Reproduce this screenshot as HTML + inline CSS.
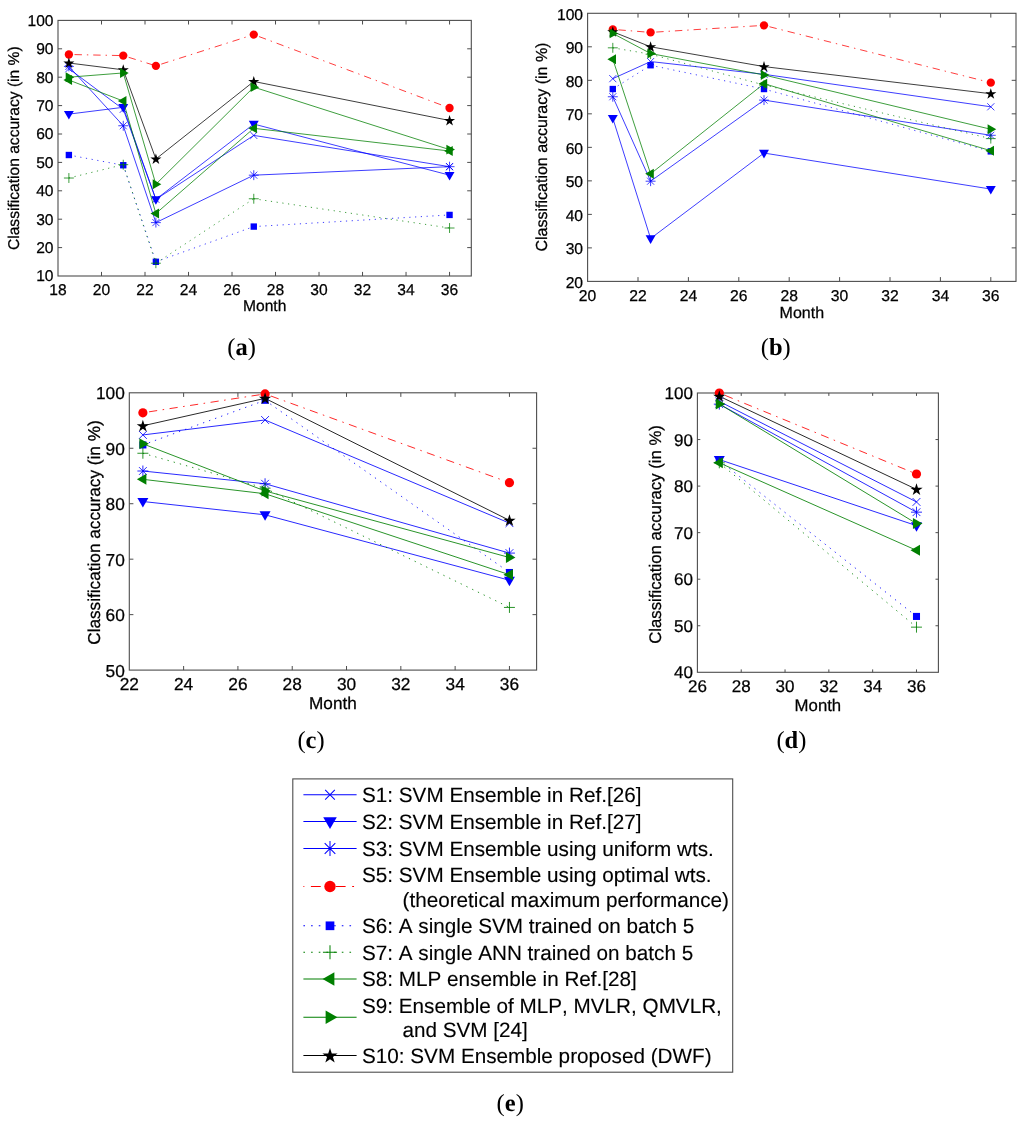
<!DOCTYPE html>
<html lang="en"><head><meta charset="utf-8"><title>Classification accuracy figure</title>
<style>
html,body{margin:0;padding:0;background:#fff;}
body{width:1024px;height:1123px;overflow:hidden;}
svg{display:block;font-family:"Liberation Sans",Arial,Helvetica,sans-serif;fill:#000;font-kerning:none;text-rendering:geometricPrecision;}
text{stroke:#000;stroke-width:0.25px;}
text.lg{stroke-width:0.12px;}
text.cp{stroke:none;}
</style></head><body>
<svg width="1024" height="1123" viewBox="0 0 1024 1123">
<rect width="1024" height="1123" fill="#fff"/>
<rect x="58" y="20.4" width="413.3" height="255.6" fill="none" stroke="#4d4d4d" stroke-width="1.1"/>
<text x="58" y="294.5" font-size="15.6" text-anchor="middle">18</text>
<text x="101.51" y="294.5" font-size="15.6" text-anchor="middle">20</text>
<text x="145.01" y="294.5" font-size="15.6" text-anchor="middle">22</text>
<text x="188.52" y="294.5" font-size="15.6" text-anchor="middle">24</text>
<text x="232.02" y="294.5" font-size="15.6" text-anchor="middle">26</text>
<text x="275.53" y="294.5" font-size="15.6" text-anchor="middle">28</text>
<text x="319.03" y="294.5" font-size="15.6" text-anchor="middle">30</text>
<text x="362.54" y="294.5" font-size="15.6" text-anchor="middle">32</text>
<text x="406.04" y="294.5" font-size="15.6" text-anchor="middle">34</text>
<text x="449.55" y="294.5" font-size="15.6" text-anchor="middle">36</text>
<text x="53.5" y="281.42" font-size="15.6" text-anchor="end">10</text>
<text x="53.5" y="253.02" font-size="15.6" text-anchor="end">20</text>
<text x="53.5" y="224.62" font-size="15.6" text-anchor="end">30</text>
<text x="53.5" y="196.22" font-size="15.6" text-anchor="end">40</text>
<text x="53.5" y="167.82" font-size="15.6" text-anchor="end">50</text>
<text x="53.5" y="139.42" font-size="15.6" text-anchor="end">60</text>
<text x="53.5" y="111.02" font-size="15.6" text-anchor="end">70</text>
<text x="53.5" y="82.62" font-size="15.6" text-anchor="end">80</text>
<text x="53.5" y="54.22" font-size="15.6" text-anchor="end">90</text>
<text x="53.5" y="25.82" font-size="15.6" text-anchor="end">100</text>
<path d="M101.51 276v-4.1M101.51 20.4v4.1M145.01 276v-4.1M145.01 20.4v4.1M188.52 276v-4.1M188.52 20.4v4.1M232.02 276v-4.1M232.02 20.4v4.1M275.53 276v-4.1M275.53 20.4v4.1M319.03 276v-4.1M319.03 20.4v4.1M362.54 276v-4.1M362.54 20.4v4.1M406.04 276v-4.1M406.04 20.4v4.1M449.55 276v-4.1M449.55 20.4v4.1M58 247.6h4.1M471.3 247.6h-4.1M58 219.2h4.1M471.3 219.2h-4.1M58 190.8h4.1M471.3 190.8h-4.1M58 162.4h4.1M471.3 162.4h-4.1M58 134h4.1M471.3 134h-4.1M58 105.6h4.1M471.3 105.6h-4.1M58 77.2h4.1M471.3 77.2h-4.1M58 48.8h4.1M471.3 48.8h-4.1" stroke="#4d4d4d" stroke-width="1" fill="none"/>
<text x="264.65" y="311.3" font-size="15.6" text-anchor="middle">Month</text>
<text transform="translate(19.2 148.2) rotate(-90)" font-size="15.6" text-anchor="middle">Classification accuracy (in %)</text>
<polyline points="68.88,68.68 123.26,109.29 155.89,199.32 253.77,135.42 449.55,166.66" fill="none" stroke="#0000ff" stroke-width="0.76"/>
<path d="M65.34 65.14L72.42 72.22M65.34 72.22L72.42 65.14" stroke="#0000ff" stroke-width="0.76" fill="none"/>
<path d="M119.72 105.75L126.8 112.83M119.72 112.83L126.8 105.75" stroke="#0000ff" stroke-width="0.76" fill="none"/>
<path d="M152.35 195.78L159.43 202.86M152.35 202.86L159.43 195.78" stroke="#0000ff" stroke-width="0.76" fill="none"/>
<path d="M250.23 131.88L257.31 138.96M250.23 138.96L257.31 131.88" stroke="#0000ff" stroke-width="0.76" fill="none"/>
<path d="M446.01 163.12L453.09 170.2M446.01 170.2L453.09 163.12" stroke="#0000ff" stroke-width="0.76" fill="none"/>
<polyline points="68.88,114.12 123.26,107.3 155.89,199.32 253.77,124.06 449.55,175.18" fill="none" stroke="#0000ff" stroke-width="0.76"/>
<path d="M63.92 110.93L73.83 110.93L68.88 119.54Z" fill="#0000ff"/>
<path d="M118.3 104.12L128.21 104.12L123.26 112.72Z" fill="#0000ff"/>
<path d="M150.93 196.13L160.84 196.13L155.89 204.74Z" fill="#0000ff"/>
<path d="M248.82 120.87L258.73 120.87L253.77 129.48Z" fill="#0000ff"/>
<path d="M444.59 171.99L454.5 171.99L449.55 180.6Z" fill="#0000ff"/>
<polyline points="68.88,66.41 123.26,125.76 155.89,222.61 253.77,175.18 449.55,166.66" fill="none" stroke="#0000ff" stroke-width="0.76"/>
<path d="M63.92 66.41L73.83 66.41M68.88 61.45L68.88 71.36M65.37 62.9L72.38 69.91M65.37 69.91L72.38 62.9" stroke="#0000ff" stroke-width="0.76" fill="none"/>
<path d="M118.3 125.76L128.21 125.76M123.26 120.81L123.26 130.72M119.75 122.26L126.76 129.27M119.75 129.27L126.76 122.26" stroke="#0000ff" stroke-width="0.76" fill="none"/>
<path d="M150.93 222.61L160.84 222.61M155.89 217.65L155.89 227.56M152.38 219.1L159.39 226.11M152.38 226.11L159.39 219.1" stroke="#0000ff" stroke-width="0.76" fill="none"/>
<path d="M248.82 175.18L258.73 175.18M253.77 170.22L253.77 180.14M250.27 171.68L257.28 178.68M250.27 178.68L257.28 171.68" stroke="#0000ff" stroke-width="0.76" fill="none"/>
<path d="M444.59 166.66L454.5 166.66M449.55 161.7L449.55 171.62M446.04 163.16L453.05 170.16M446.04 170.16L453.05 163.16" stroke="#0000ff" stroke-width="0.76" fill="none"/>
<path d="M68.88 54.48L123.26 55.62" fill="none" stroke="#ff0000" stroke-width="0.76" stroke-dasharray="7.4 4.95 1.4 4.95" stroke-dashoffset="13.05"/>
<path d="M123.26 55.62L155.89 65.84" fill="none" stroke="#ff0000" stroke-width="0.76" stroke-dasharray="7.4 4.95 1.4 4.95" stroke-dashoffset="13.05"/>
<path d="M155.89 65.84L253.77 34.6" fill="none" stroke="#ff0000" stroke-width="0.76" stroke-dasharray="7.4 4.95 1.4 4.95" stroke-dashoffset="13.05"/>
<path d="M253.77 34.6L449.55 108.01" fill="none" stroke="#ff0000" stroke-width="0.76" stroke-dasharray="7.4 4.95 1.4 4.95" stroke-dashoffset="13.05"/>
<circle cx="68.88" cy="54.48" r="4.16" fill="#ff0000"/>
<circle cx="123.26" cy="55.62" r="4.16" fill="#ff0000"/>
<circle cx="155.89" cy="65.84" r="4.16" fill="#ff0000"/>
<circle cx="253.77" cy="34.6" r="4.16" fill="#ff0000"/>
<circle cx="449.55" cy="108.01" r="4.16" fill="#ff0000"/>
<path d="M68.88 155.02L123.26 165.24" fill="none" stroke="#0000ff" stroke-width="0.76" stroke-dasharray="1.2 4.57"/>
<path d="M123.26 165.24L155.89 261.8" fill="none" stroke="#0000ff" stroke-width="0.76" stroke-dasharray="1.2 4.57"/>
<path d="M155.89 261.8L253.77 226.58" fill="none" stroke="#0000ff" stroke-width="0.76" stroke-dasharray="1.2 4.57"/>
<path d="M253.77 226.58L449.55 214.94" fill="none" stroke="#0000ff" stroke-width="0.76" stroke-dasharray="1.2 4.57"/>
<rect x="65.69" y="151.83" width="6.37" height="6.37" fill="#0000ff"/>
<rect x="120.07" y="162.05" width="6.37" height="6.37" fill="#0000ff"/>
<rect x="152.7" y="258.61" width="6.37" height="6.37" fill="#0000ff"/>
<rect x="250.59" y="223.4" width="6.37" height="6.37" fill="#0000ff"/>
<rect x="446.36" y="211.75" width="6.37" height="6.37" fill="#0000ff"/>
<path d="M68.88 178.02L123.26 164.67" fill="none" stroke="#007f00" stroke-width="0.76" stroke-dasharray="1.2 4.57"/>
<path d="M123.26 164.67L155.89 263.22" fill="none" stroke="#007f00" stroke-width="0.76" stroke-dasharray="1.2 4.57"/>
<path d="M155.89 263.22L253.77 198.75" fill="none" stroke="#007f00" stroke-width="0.76" stroke-dasharray="1.2 4.57"/>
<path d="M253.77 198.75L449.55 228" fill="none" stroke="#007f00" stroke-width="0.76" stroke-dasharray="1.2 4.57"/>
<path d="M63.92 178.02L73.83 178.02M68.88 173.06L68.88 182.98" stroke="#007f00" stroke-width="0.76" fill="none"/>
<path d="M118.3 164.67L128.21 164.67M123.26 159.72L123.26 169.63" stroke="#007f00" stroke-width="0.76" fill="none"/>
<path d="M150.93 263.22L160.84 263.22M155.89 258.26L155.89 268.18" stroke="#007f00" stroke-width="0.76" fill="none"/>
<path d="M248.82 198.75L258.73 198.75M253.77 193.8L253.77 203.71" stroke="#007f00" stroke-width="0.76" fill="none"/>
<path d="M444.59 228L454.5 228M449.55 223.05L449.55 232.96" stroke="#007f00" stroke-width="0.76" fill="none"/>
<polyline points="68.88,63 123.26,69.82 155.89,158.99 253.77,81.46 449.55,120.51" fill="none" stroke="#000000" stroke-width="0.76"/>
<polygon points="68.88,57.51 70.19,61.55 74.43,61.55 71,64.04 72.31,68.08 68.88,65.59 65.44,68.08 66.75,64.04 63.32,61.55 67.56,61.55" fill="#000000"/>
<polygon points="123.26,64.33 124.57,68.36 128.81,68.37 125.38,70.86 126.69,74.9 123.26,72.4 119.82,74.9 121.14,70.86 117.7,68.37 121.95,68.36" fill="#000000"/>
<polygon points="155.89,153.51 157.2,157.54 161.44,157.54 158.01,160.04 159.32,164.07 155.89,161.58 152.45,164.07 153.76,160.04 150.33,157.54 154.58,157.54" fill="#000000"/>
<polygon points="253.77,75.97 255.09,80.01 259.33,80.01 255.9,82.5 257.21,86.54 253.77,84.05 250.34,86.54 251.65,82.5 248.22,80.01 252.46,80.01" fill="#000000"/>
<polygon points="449.55,115.02 450.86,119.06 455.1,119.06 451.67,121.55 452.98,125.59 449.55,123.1 446.11,125.59 447.43,121.55 443.99,119.06 448.24,119.06" fill="#000000"/>
<polyline points="68.88,80.04 123.26,101.06 155.89,213.52 253.77,128.32 449.55,151.04" fill="none" stroke="#007f00" stroke-width="0.76"/>
<path d="M72.06 75.08L72.06 85L63.46 80.04Z" fill="#007f00"/>
<path d="M126.44 96.1L126.44 106.01L117.84 101.06Z" fill="#007f00"/>
<path d="M159.07 208.56L159.07 218.48L150.47 213.52Z" fill="#007f00"/>
<path d="M256.96 123.36L256.96 133.28L248.36 128.32Z" fill="#007f00"/>
<path d="M452.73 146.08L452.73 156L444.13 151.04Z" fill="#007f00"/>
<polyline points="68.88,77.2 123.26,72.94 155.89,184.27 253.77,87.14 449.55,149.62" fill="none" stroke="#007f00" stroke-width="0.76"/>
<path d="M65.69 72.24L65.69 82.16L74.29 77.2Z" fill="#007f00"/>
<path d="M120.07 67.98L120.07 77.9L128.67 72.94Z" fill="#007f00"/>
<path d="M152.7 179.31L152.7 189.22L161.3 184.27Z" fill="#007f00"/>
<path d="M250.59 82.18L250.59 92.1L259.19 87.14Z" fill="#007f00"/>
<path d="M446.36 144.66L446.36 154.58L454.96 149.62Z" fill="#007f00"/>
<rect x="587.6" y="13.3" width="428.4" height="268.1" fill="none" stroke="#4d4d4d" stroke-width="1.1"/>
<text x="587.6" y="300.51" font-size="15.7" text-anchor="middle">20</text>
<text x="638" y="300.51" font-size="15.7" text-anchor="middle">22</text>
<text x="688.4" y="300.51" font-size="15.7" text-anchor="middle">24</text>
<text x="738.8" y="300.51" font-size="15.7" text-anchor="middle">26</text>
<text x="789.2" y="300.51" font-size="15.7" text-anchor="middle">28</text>
<text x="839.6" y="300.51" font-size="15.7" text-anchor="middle">30</text>
<text x="890" y="300.51" font-size="15.7" text-anchor="middle">32</text>
<text x="940.4" y="300.51" font-size="15.7" text-anchor="middle">34</text>
<text x="990.8" y="300.51" font-size="15.7" text-anchor="middle">36</text>
<text x="583.1" y="287.65" font-size="15.7" text-anchor="end">20</text>
<text x="583.1" y="254.14" font-size="15.7" text-anchor="end">30</text>
<text x="583.1" y="220.63" font-size="15.7" text-anchor="end">40</text>
<text x="583.1" y="187.11" font-size="15.7" text-anchor="end">50</text>
<text x="583.1" y="153.6" font-size="15.7" text-anchor="end">60</text>
<text x="583.1" y="120.09" font-size="15.7" text-anchor="end">70</text>
<text x="583.1" y="86.58" font-size="15.7" text-anchor="end">80</text>
<text x="583.1" y="53.06" font-size="15.7" text-anchor="end">90</text>
<text x="583.1" y="19.55" font-size="15.7" text-anchor="end">100</text>
<path d="M638 281.4v-4.3M638 13.3v4.3M688.4 281.4v-4.3M688.4 13.3v4.3M738.8 281.4v-4.3M738.8 13.3v4.3M789.2 281.4v-4.3M789.2 13.3v4.3M839.6 281.4v-4.3M839.6 13.3v4.3M890 281.4v-4.3M890 13.3v4.3M940.4 281.4v-4.3M940.4 13.3v4.3M990.8 281.4v-4.3M990.8 13.3v4.3M587.6 247.89h4.3M1016 247.89h-4.3M587.6 214.38h4.3M1016 214.38h-4.3M587.6 180.86h4.3M1016 180.86h-4.3M587.6 147.35h4.3M1016 147.35h-4.3M587.6 113.84h4.3M1016 113.84h-4.3M587.6 80.32h4.3M1016 80.32h-4.3M587.6 46.81h4.3M1016 46.81h-4.3" stroke="#4d4d4d" stroke-width="1" fill="none"/>
<text x="801.8" y="317.5" font-size="16.0" text-anchor="middle">Month</text>
<text transform="translate(547.3 147.05) rotate(-90)" font-size="16.0" text-anchor="middle">Classification accuracy (in %)</text>
<polyline points="612.8,78.65 650.6,61.56 764,74.29 990.8,106.8" fill="none" stroke="#0000ff" stroke-width="0.76"/>
<path d="M609.26 75.11L616.34 82.19M609.26 82.19L616.34 75.11" stroke="#0000ff" stroke-width="0.76" fill="none"/>
<path d="M647.06 58.02L654.14 65.1M647.06 65.1L654.14 58.02" stroke="#0000ff" stroke-width="0.76" fill="none"/>
<path d="M760.46 70.75L767.54 77.83M760.46 77.83L767.54 70.75" stroke="#0000ff" stroke-width="0.76" fill="none"/>
<path d="M987.26 103.26L994.34 110.34M987.26 110.34L994.34 103.26" stroke="#0000ff" stroke-width="0.76" fill="none"/>
<polyline points="612.8,118.19 650.6,238.5 764,153.05 990.8,189.07" fill="none" stroke="#0000ff" stroke-width="0.76"/>
<path d="M607.84 115.01L617.76 115.01L612.8 123.61Z" fill="#0000ff"/>
<path d="M645.64 235.32L655.56 235.32L650.6 243.92Z" fill="#0000ff"/>
<path d="M759.04 149.86L768.96 149.86L764 158.46Z" fill="#0000ff"/>
<path d="M985.84 185.89L995.76 185.89L990.8 194.49Z" fill="#0000ff"/>
<polyline points="612.8,96.75 650.6,181.2 764,100.1 990.8,135.29" fill="none" stroke="#0000ff" stroke-width="0.76"/>
<path d="M607.84 96.75L617.76 96.75M612.8 91.79L612.8 101.7M609.3 93.24L616.3 100.25M609.3 100.25L616.3 93.24" stroke="#0000ff" stroke-width="0.76" fill="none"/>
<path d="M645.64 181.2L655.56 181.2M650.6 176.24L650.6 186.15M647.1 177.69L654.1 184.7M647.1 184.7L654.1 177.69" stroke="#0000ff" stroke-width="0.76" fill="none"/>
<path d="M759.04 100.1L768.96 100.1M764 95.14L764 105.05M760.5 96.59L767.5 103.6M760.5 103.6L767.5 96.59" stroke="#0000ff" stroke-width="0.76" fill="none"/>
<path d="M985.84 135.29L995.76 135.29M990.8 130.33L990.8 140.24M987.3 131.78L994.3 138.79M987.3 138.79L994.3 131.78" stroke="#0000ff" stroke-width="0.76" fill="none"/>
<path d="M612.8 29.39L650.6 32.4" fill="none" stroke="#ff0000" stroke-width="0.76" stroke-dasharray="7.4 4.95 1.4 4.95" stroke-dashoffset="13.05"/>
<path d="M650.6 32.4L764 25.36" fill="none" stroke="#ff0000" stroke-width="0.76" stroke-dasharray="7.4 4.95 1.4 4.95" stroke-dashoffset="13.05"/>
<path d="M764 25.36L990.8 82.67" fill="none" stroke="#ff0000" stroke-width="0.76" stroke-dasharray="7.4 4.95 1.4 4.95" stroke-dashoffset="13.05"/>
<circle cx="612.8" cy="29.39" r="4.16" fill="#ff0000"/>
<circle cx="650.6" cy="32.4" r="4.16" fill="#ff0000"/>
<circle cx="764" cy="25.36" r="4.16" fill="#ff0000"/>
<circle cx="990.8" cy="82.67" r="4.16" fill="#ff0000"/>
<path d="M612.8 89.04L650.6 65.24" fill="none" stroke="#0000ff" stroke-width="0.76" stroke-dasharray="1.2 4.57"/>
<path d="M650.6 65.24L764 89.04" fill="none" stroke="#0000ff" stroke-width="0.76" stroke-dasharray="1.2 4.57"/>
<path d="M764 89.04L990.8 151.37" fill="none" stroke="#0000ff" stroke-width="0.76" stroke-dasharray="1.2 4.57"/>
<rect x="609.61" y="85.85" width="6.37" height="6.37" fill="#0000ff"/>
<rect x="647.41" y="62.06" width="6.37" height="6.37" fill="#0000ff"/>
<rect x="760.81" y="85.85" width="6.37" height="6.37" fill="#0000ff"/>
<rect x="987.61" y="148.19" width="6.37" height="6.37" fill="#0000ff"/>
<path d="M612.8 47.82L650.6 54.19" fill="none" stroke="#007f00" stroke-width="0.76" stroke-dasharray="1.2 4.57"/>
<path d="M650.6 54.19L764 85.02" fill="none" stroke="#007f00" stroke-width="0.76" stroke-dasharray="1.2 4.57"/>
<path d="M764 85.02L990.8 138.64" fill="none" stroke="#007f00" stroke-width="0.76" stroke-dasharray="1.2 4.57"/>
<path d="M607.84 47.82L617.76 47.82M612.8 42.86L612.8 52.77" stroke="#007f00" stroke-width="0.76" fill="none"/>
<path d="M645.64 54.19L655.56 54.19M650.6 49.23L650.6 59.14" stroke="#007f00" stroke-width="0.76" fill="none"/>
<path d="M759.04 85.02L768.96 85.02M764 80.06L764 89.97" stroke="#007f00" stroke-width="0.76" fill="none"/>
<path d="M985.84 138.64L995.76 138.64M990.8 133.68L990.8 143.59" stroke="#007f00" stroke-width="0.76" fill="none"/>
<polyline points="612.8,31.73 650.6,46.81 764,66.58 990.8,93.73" fill="none" stroke="#000000" stroke-width="0.76"/>
<polygon points="612.8,26.24 614.11,30.28 618.36,30.28 614.92,32.78 616.23,36.81 612.8,34.32 609.37,36.81 610.68,32.78 607.24,30.28 611.49,30.28" fill="#000000"/>
<polygon points="650.6,41.33 651.91,45.36 656.16,45.36 652.72,47.86 654.03,51.89 650.6,49.4 647.17,51.89 648.48,47.86 645.04,45.36 649.29,45.36" fill="#000000"/>
<polygon points="764,61.1 765.31,65.13 769.56,65.13 766.12,67.63 767.43,71.66 764,69.17 760.57,71.66 761.88,67.63 758.44,65.13 762.69,65.13" fill="#000000"/>
<polygon points="990.8,88.24 992.11,92.28 996.36,92.28 992.92,94.77 994.23,98.81 990.8,96.32 987.37,98.81 988.68,94.77 985.24,92.28 989.49,92.28" fill="#000000"/>
<polyline points="612.8,59.21 650.6,173.82 764,83.68 990.8,150.7" fill="none" stroke="#007f00" stroke-width="0.76"/>
<path d="M615.99 54.26L615.99 64.17L607.38 59.21Z" fill="#007f00"/>
<path d="M653.79 168.87L653.79 178.78L645.18 173.82Z" fill="#007f00"/>
<path d="M767.19 78.72L767.19 88.63L758.58 83.68Z" fill="#007f00"/>
<path d="M993.99 145.75L993.99 155.66L985.38 150.7Z" fill="#007f00"/>
<polyline points="612.8,33.41 650.6,53.52 764,74.96 990.8,129.25" fill="none" stroke="#007f00" stroke-width="0.76"/>
<path d="M609.61 28.45L609.61 38.36L618.22 33.41Z" fill="#007f00"/>
<path d="M647.41 48.56L647.41 58.47L656.02 53.52Z" fill="#007f00"/>
<path d="M760.81 70.01L760.81 79.92L769.42 74.96Z" fill="#007f00"/>
<path d="M987.61 124.3L987.61 134.21L996.22 129.25Z" fill="#007f00"/>
<rect x="129.3" y="392.8" width="407.3" height="277.3" fill="none" stroke="#4d4d4d" stroke-width="1.1"/>
<text x="129.3" y="690.17" font-size="17.3" text-anchor="middle">22</text>
<text x="183.61" y="690.17" font-size="17.3" text-anchor="middle">24</text>
<text x="237.91" y="690.17" font-size="17.3" text-anchor="middle">26</text>
<text x="292.22" y="690.17" font-size="17.3" text-anchor="middle">28</text>
<text x="346.53" y="690.17" font-size="17.3" text-anchor="middle">30</text>
<text x="400.83" y="690.17" font-size="17.3" text-anchor="middle">32</text>
<text x="455.14" y="690.17" font-size="17.3" text-anchor="middle">34</text>
<text x="509.45" y="690.17" font-size="17.3" text-anchor="middle">36</text>
<text x="124.8" y="676.73" font-size="17.3" text-anchor="end">50</text>
<text x="124.8" y="621.27" font-size="17.3" text-anchor="end">60</text>
<text x="124.8" y="565.81" font-size="17.3" text-anchor="end">70</text>
<text x="124.8" y="510.35" font-size="17.3" text-anchor="end">80</text>
<text x="124.8" y="454.89" font-size="17.3" text-anchor="end">90</text>
<text x="124.8" y="399.43" font-size="17.3" text-anchor="end">100</text>
<path d="M183.61 670.1v-4.1M183.61 392.8v4.1M237.91 670.1v-4.1M237.91 392.8v4.1M292.22 670.1v-4.1M292.22 392.8v4.1M346.53 670.1v-4.1M346.53 392.8v4.1M400.83 670.1v-4.1M400.83 392.8v4.1M455.14 670.1v-4.1M455.14 392.8v4.1M509.45 670.1v-4.1M509.45 392.8v4.1M129.3 614.64h4.1M536.6 614.64h-4.1M129.3 559.18h4.1M536.6 559.18h-4.1M129.3 503.72h4.1M536.6 503.72h-4.1M129.3 448.26h4.1M536.6 448.26h-4.1" stroke="#4d4d4d" stroke-width="1" fill="none"/>
<text x="332.95" y="709" font-size="17.2" text-anchor="middle">Month</text>
<text transform="translate(100 532.55) rotate(-90)" font-size="17.2" text-anchor="middle">Classification accuracy (in %)</text>
<polyline points="142.88,434.95 265.07,419.98 509.45,523.13" fill="none" stroke="#0000ff" stroke-width="0.84"/>
<path d="M138.96 431.03L146.8 438.87M138.96 438.87L146.8 431.03" stroke="#0000ff" stroke-width="0.84" fill="none"/>
<path d="M261.15 416.06L268.99 423.9M261.15 423.9L268.99 416.06" stroke="#0000ff" stroke-width="0.84" fill="none"/>
<path d="M505.53 519.21L513.37 527.05M505.53 527.05L513.37 519.21" stroke="#0000ff" stroke-width="0.84" fill="none"/>
<polyline points="142.88,501.5 265.07,514.81 509.45,580.25" fill="none" stroke="#0000ff" stroke-width="0.84"/>
<path d="M137.39 497.97L148.36 497.97L142.88 507.5Z" fill="#0000ff"/>
<path d="M259.58 511.28L270.55 511.28L265.07 520.81Z" fill="#0000ff"/>
<path d="M503.96 576.73L514.93 576.73L509.45 586.25Z" fill="#0000ff"/>
<polyline points="142.88,471 265.07,483.75 509.45,553.08" fill="none" stroke="#0000ff" stroke-width="0.84"/>
<path d="M137.39 471L148.36 471M142.88 465.51L142.88 476.49M139 467.12L146.76 474.88M139 474.88L146.76 467.12" stroke="#0000ff" stroke-width="0.84" fill="none"/>
<path d="M259.58 483.75L270.55 483.75M265.07 478.27L265.07 489.24M261.19 479.87L268.95 487.63M261.19 487.63L268.95 479.87" stroke="#0000ff" stroke-width="0.84" fill="none"/>
<path d="M503.96 553.08L514.93 553.08M509.45 547.59L509.45 558.57M505.57 549.2L513.33 556.96M505.57 556.96L513.33 549.2" stroke="#0000ff" stroke-width="0.84" fill="none"/>
<path d="M142.88 412.77L265.07 393.91" fill="none" stroke="#ff0000" stroke-width="0.84" stroke-dasharray="8.21 5.49 1.55 5.49" stroke-dashoffset="14.49"/>
<path d="M265.07 393.91L509.45 482.65" fill="none" stroke="#ff0000" stroke-width="0.84" stroke-dasharray="8.21 5.49 1.55 5.49" stroke-dashoffset="14.49"/>
<circle cx="142.88" cy="412.77" r="4.61" fill="#ff0000"/>
<circle cx="265.07" cy="393.91" r="4.61" fill="#ff0000"/>
<circle cx="509.45" cy="482.65" r="4.61" fill="#ff0000"/>
<path d="M142.88 444.93L265.07 400.29" fill="none" stroke="#0000ff" stroke-width="0.84" stroke-dasharray="1.33 5.07"/>
<path d="M265.07 400.29L509.45 572.49" fill="none" stroke="#0000ff" stroke-width="0.84" stroke-dasharray="1.33 5.07"/>
<rect x="139.35" y="441.4" width="7.06" height="7.06" fill="#0000ff"/>
<rect x="261.54" y="396.76" width="7.06" height="7.06" fill="#0000ff"/>
<rect x="505.92" y="568.96" width="7.06" height="7.06" fill="#0000ff"/>
<path d="M142.88 453.25L265.07 488.19" fill="none" stroke="#007f00" stroke-width="0.84" stroke-dasharray="1.33 5.07"/>
<path d="M265.07 488.19L509.45 607.43" fill="none" stroke="#007f00" stroke-width="0.84" stroke-dasharray="1.33 5.07"/>
<path d="M137.39 453.25L148.36 453.25M142.88 447.76L142.88 458.74" stroke="#007f00" stroke-width="0.84" fill="none"/>
<path d="M259.58 488.19L270.55 488.19M265.07 482.7L265.07 493.68" stroke="#007f00" stroke-width="0.84" fill="none"/>
<path d="M503.96 607.43L514.93 607.43M509.45 601.94L509.45 612.92" stroke="#007f00" stroke-width="0.84" fill="none"/>
<polyline points="142.88,425.8 265.07,398.35 509.45,520.36" fill="none" stroke="#000000" stroke-width="0.84"/>
<polygon points="142.88,419.72 144.33,424.19 149.03,424.19 145.23,426.95 146.68,431.42 142.88,428.66 139.07,431.42 140.53,426.95 136.73,424.19 141.42,424.19" fill="#000000"/>
<polygon points="265.07,392.27 266.52,396.74 271.22,396.74 267.42,399.5 268.87,403.97 265.07,401.21 261.26,403.97 262.72,399.5 258.92,396.74 263.61,396.74" fill="#000000"/>
<polygon points="509.45,514.28 510.9,518.75 515.6,518.75 511.8,521.51 513.25,525.98 509.45,523.22 505.64,525.98 507.1,521.51 503.3,518.75 507.99,518.75" fill="#000000"/>
<polyline points="142.88,479.32 265.07,493.74 509.45,574.71" fill="none" stroke="#007f00" stroke-width="0.84"/>
<path d="M146.4 473.83L146.4 484.81L136.88 479.32Z" fill="#007f00"/>
<path d="M268.59 488.25L268.59 499.23L259.07 493.74Z" fill="#007f00"/>
<path d="M512.97 569.22L512.97 580.2L503.45 574.71Z" fill="#007f00"/>
<polyline points="142.88,443.82 265.07,490.96 509.45,557.52" fill="none" stroke="#007f00" stroke-width="0.84"/>
<path d="M139.35 438.34L139.35 449.31L148.87 443.82Z" fill="#007f00"/>
<path d="M261.54 485.48L261.54 496.45L271.06 490.96Z" fill="#007f00"/>
<path d="M505.92 552.03L505.92 563L515.44 557.52Z" fill="#007f00"/>
<rect x="697.4" y="393" width="241" height="279.3" fill="none" stroke="#4d4d4d" stroke-width="1.1"/>
<text x="697.4" y="692.02" font-size="17.0" text-anchor="middle">26</text>
<text x="741.22" y="692.02" font-size="17.0" text-anchor="middle">28</text>
<text x="785.04" y="692.02" font-size="17.0" text-anchor="middle">30</text>
<text x="828.85" y="692.02" font-size="17.0" text-anchor="middle">32</text>
<text x="872.67" y="692.02" font-size="17.0" text-anchor="middle">34</text>
<text x="916.49" y="692.02" font-size="17.0" text-anchor="middle">36</text>
<text x="692.9" y="678.42" font-size="17.0" text-anchor="end">40</text>
<text x="692.9" y="631.87" font-size="17.0" text-anchor="end">50</text>
<text x="692.9" y="585.32" font-size="17.0" text-anchor="end">60</text>
<text x="692.9" y="538.77" font-size="17.0" text-anchor="end">70</text>
<text x="692.9" y="492.22" font-size="17.0" text-anchor="end">80</text>
<text x="692.9" y="445.67" font-size="17.0" text-anchor="end">90</text>
<text x="692.9" y="399.12" font-size="17.0" text-anchor="end">100</text>
<path d="M741.22 672.3v-2.9M741.22 393v2.9M785.04 672.3v-2.9M785.04 393v2.9M828.85 672.3v-2.9M828.85 393v2.9M872.67 672.3v-2.9M872.67 393v2.9M916.49 672.3v-2.9M916.49 393v2.9M697.4 625.75h2.9M938.4 625.75h-2.9M697.4 579.2h2.9M938.4 579.2h-2.9M697.4 532.65h2.9M938.4 532.65h-2.9M697.4 486.1h2.9M938.4 486.1h-2.9M697.4 439.55h2.9M938.4 439.55h-2.9" stroke="#4d4d4d" stroke-width="1" fill="none"/>
<text x="817.9" y="711" font-size="16.75" text-anchor="middle">Month</text>
<text transform="translate(661 534.45) rotate(-90)" font-size="16.75" text-anchor="middle">Classification accuracy (in %)</text>
<polyline points="719.31,401.38 916.49,501.93" fill="none" stroke="#0000ff" stroke-width="0.84"/>
<path d="M715.39 397.46L723.23 405.3M715.39 405.3L723.23 397.46" stroke="#0000ff" stroke-width="0.84" fill="none"/>
<path d="M912.57 498.01L920.41 505.85M912.57 505.85L920.41 498.01" stroke="#0000ff" stroke-width="0.84" fill="none"/>
<polyline points="719.31,459.57 916.49,525.67" fill="none" stroke="#0000ff" stroke-width="0.84"/>
<path d="M713.82 456.04L724.8 456.04L719.31 465.56Z" fill="#0000ff"/>
<path d="M911 522.14L921.98 522.14L916.49 531.67Z" fill="#0000ff"/>
<polyline points="719.31,404.17 916.49,512.17" fill="none" stroke="#0000ff" stroke-width="0.84"/>
<path d="M713.82 404.17L724.8 404.17M719.31 398.68L719.31 409.66M715.43 400.29L723.19 408.05M715.43 408.05L723.19 400.29" stroke="#0000ff" stroke-width="0.84" fill="none"/>
<path d="M911 512.17L921.98 512.17M916.49 506.68L916.49 517.66M912.61 508.29L920.37 516.05M912.61 516.05L920.37 508.29" stroke="#0000ff" stroke-width="0.84" fill="none"/>
<path d="M719.31 393L916.49 474" fill="none" stroke="#ff0000" stroke-width="0.84" stroke-dasharray="8.21 5.49 1.55 5.49" stroke-dashoffset="14.49"/>
<circle cx="719.31" cy="393" r="4.61" fill="#ff0000"/>
<circle cx="916.49" cy="474" r="4.61" fill="#ff0000"/>
<path d="M719.31 460.5L916.49 616.44" fill="none" stroke="#0000ff" stroke-width="0.84" stroke-dasharray="1.33 5.07"/>
<rect x="715.78" y="456.97" width="7.06" height="7.06" fill="#0000ff"/>
<rect x="912.96" y="612.91" width="7.06" height="7.06" fill="#0000ff"/>
<path d="M719.31 462.82L916.49 627.15" fill="none" stroke="#007f00" stroke-width="0.84" stroke-dasharray="1.33 5.07"/>
<path d="M713.82 462.82L724.8 462.82M719.31 457.34L719.31 468.31" stroke="#007f00" stroke-width="0.84" fill="none"/>
<path d="M911 627.15L921.98 627.15M916.49 621.66L916.49 632.63" stroke="#007f00" stroke-width="0.84" fill="none"/>
<polyline points="719.31,396.26 916.49,489.36" fill="none" stroke="#000000" stroke-width="0.84"/>
<polygon points="719.31,390.18 720.76,394.65 725.46,394.65 721.66,397.41 723.11,401.88 719.31,399.12 715.51,401.88 716.96,397.41 713.16,394.65 717.86,394.65" fill="#000000"/>
<polygon points="916.49,483.28 917.94,487.75 922.64,487.75 918.84,490.51 920.29,494.98 916.49,492.22 912.69,494.98 914.14,490.51 910.34,487.75 915.04,487.75" fill="#000000"/>
<polyline points="719.31,462.82 916.49,550.34" fill="none" stroke="#007f00" stroke-width="0.84"/>
<path d="M722.84 457.34L722.84 468.31L713.31 462.82Z" fill="#007f00"/>
<path d="M920.02 544.85L920.02 555.83L910.49 550.34Z" fill="#007f00"/>
<polyline points="719.31,403.94 916.49,523.57" fill="none" stroke="#007f00" stroke-width="0.84"/>
<path d="M715.78 398.45L715.78 409.43L725.31 403.94Z" fill="#007f00"/>
<path d="M912.96 518.08L912.96 529.06L922.49 523.57Z" fill="#007f00"/>
<text class="cp" x="241.6" y="355" font-family="'Liberation Serif',serif" font-size="24.5" text-anchor="middle">(<tspan font-weight="bold">a</tspan>)</text>
<text class="cp" x="775.8" y="355" font-family="'Liberation Serif',serif" font-size="24.5" text-anchor="middle">(<tspan font-weight="bold">b</tspan>)</text>
<text class="cp" x="311" y="748" font-family="'Liberation Serif',serif" font-size="24.5" text-anchor="middle">(<tspan font-weight="bold">c</tspan>)</text>
<text class="cp" x="791.4" y="747.5" font-family="'Liberation Serif',serif" font-size="24.5" text-anchor="middle">(<tspan font-weight="bold">d</tspan>)</text>
<text class="cp" x="510.2" y="1111" font-family="'Liberation Serif',serif" font-size="24.5" text-anchor="middle">(<tspan font-weight="bold">e</tspan>)</text>
<rect x="292.8" y="778.9" width="439.9" height="293.3" fill="#fff" stroke="#4d4d4d" stroke-width="1.1"/>
<path d="M303.4 794.8H356.6" stroke="#0000ff" stroke-width="1.01" fill="none"/>
<path d="M325.16 789.96L334.84 799.64M325.16 799.64L334.84 789.96" stroke="#0000ff" stroke-width="1.01" fill="none"/>
<text class="lg" x="362.0" y="802.25" font-size="20.7">S1: SVM Ensemble in Ref.[26]</text>
<path d="M303.4 821.6H356.6" stroke="#0000ff" stroke-width="1.01" fill="none"/>
<path d="M323.22 817.24L336.78 817.24L330 829.01Z" fill="#0000ff"/>
<text class="lg" x="362.0" y="829.05" font-size="20.7">S2: SVM Ensemble in Ref.[27]</text>
<path d="M303.4 848.5H356.6" stroke="#0000ff" stroke-width="1.01" fill="none"/>
<path d="M322.5 848.5L337.5 848.5M330 841L330 856M324.69 843.19L335.31 853.81M324.69 853.81L335.31 843.19" stroke="#0000ff" stroke-width="1.01" fill="none"/>
<text class="lg" x="362.0" y="855.95" font-size="20.7">S3: SVM Ensemble using uniform wts.</text>
<path d="M303.4 886.5H356.6" stroke="#ff0000" stroke-width="1.01" fill="none" stroke-dasharray="9.84 6.58 1.86 6.58" stroke-dashoffset="17.36"/>
<circle cx="330" cy="886.5" r="5.69" fill="#ff0000"/>
<text class="lg" x="362.0" y="882.25" font-size="20.7">S5: SVM Ensemble using optimal wts.</text>
<text class="lg" x="402.5" y="906.95" font-size="20.7">(theoretical maximum performance)</text>
<path d="M303.4 925.8H356.6" stroke="#0000ff" stroke-width="1.01" fill="none" stroke-dasharray="1.6 6.08"/>
<rect x="325.64" y="921.44" width="8.71" height="8.71" fill="#0000ff"/>
<text class="lg" x="362.0" y="933.25" font-size="20.7">S6: A single SVM trained on batch 5</text>
<path d="M303.4 952.2H356.6" stroke="#007f00" stroke-width="1.01" fill="none" stroke-dasharray="1.6 6.08"/>
<path d="M322.94 952.2L337.06 952.2M330 945.14L330 959.26" stroke="#007f00" stroke-width="1.01" fill="none"/>
<text class="lg" x="362.0" y="959.65" font-size="20.7">S7: A single ANN trained on batch 5</text>
<path d="M303.4 979H356.6" stroke="#007f00" stroke-width="1.01" fill="none"/>
<path d="M334.36 972.22L334.36 985.78L322.59 979Z" fill="#007f00"/>
<text class="lg" x="362.0" y="986.45" font-size="20.7">S8: MLP ensemble in Ref.[28]</text>
<path d="M303.4 1017.3H356.6" stroke="#007f00" stroke-width="1.01" fill="none"/>
<path d="M325.64 1010.52L325.64 1024.08L337.41 1017.3Z" fill="#007f00"/>
<text class="lg" x="362.0" y="1012.95" font-size="20.7">S9: Ensemble of MLP, MVLR, QMVLR,</text>
<text class="lg" x="402.5" y="1037.05" font-size="20.7">and SVM [24]</text>
<path d="M303.4 1055.6H356.6" stroke="#000000" stroke-width="1.01" fill="none"/>
<polygon points="330,1048.1 331.79,1053.62 337.6,1053.62 332.9,1057.03 334.69,1062.54 330,1059.13 325.31,1062.54 327.1,1057.03 322.4,1053.62 328.21,1053.62" fill="#000000"/>
<text class="lg" x="362.0" y="1063.05" font-size="20.7">S10: SVM Ensemble proposed (DWF)</text>
</svg>
</body></html>
